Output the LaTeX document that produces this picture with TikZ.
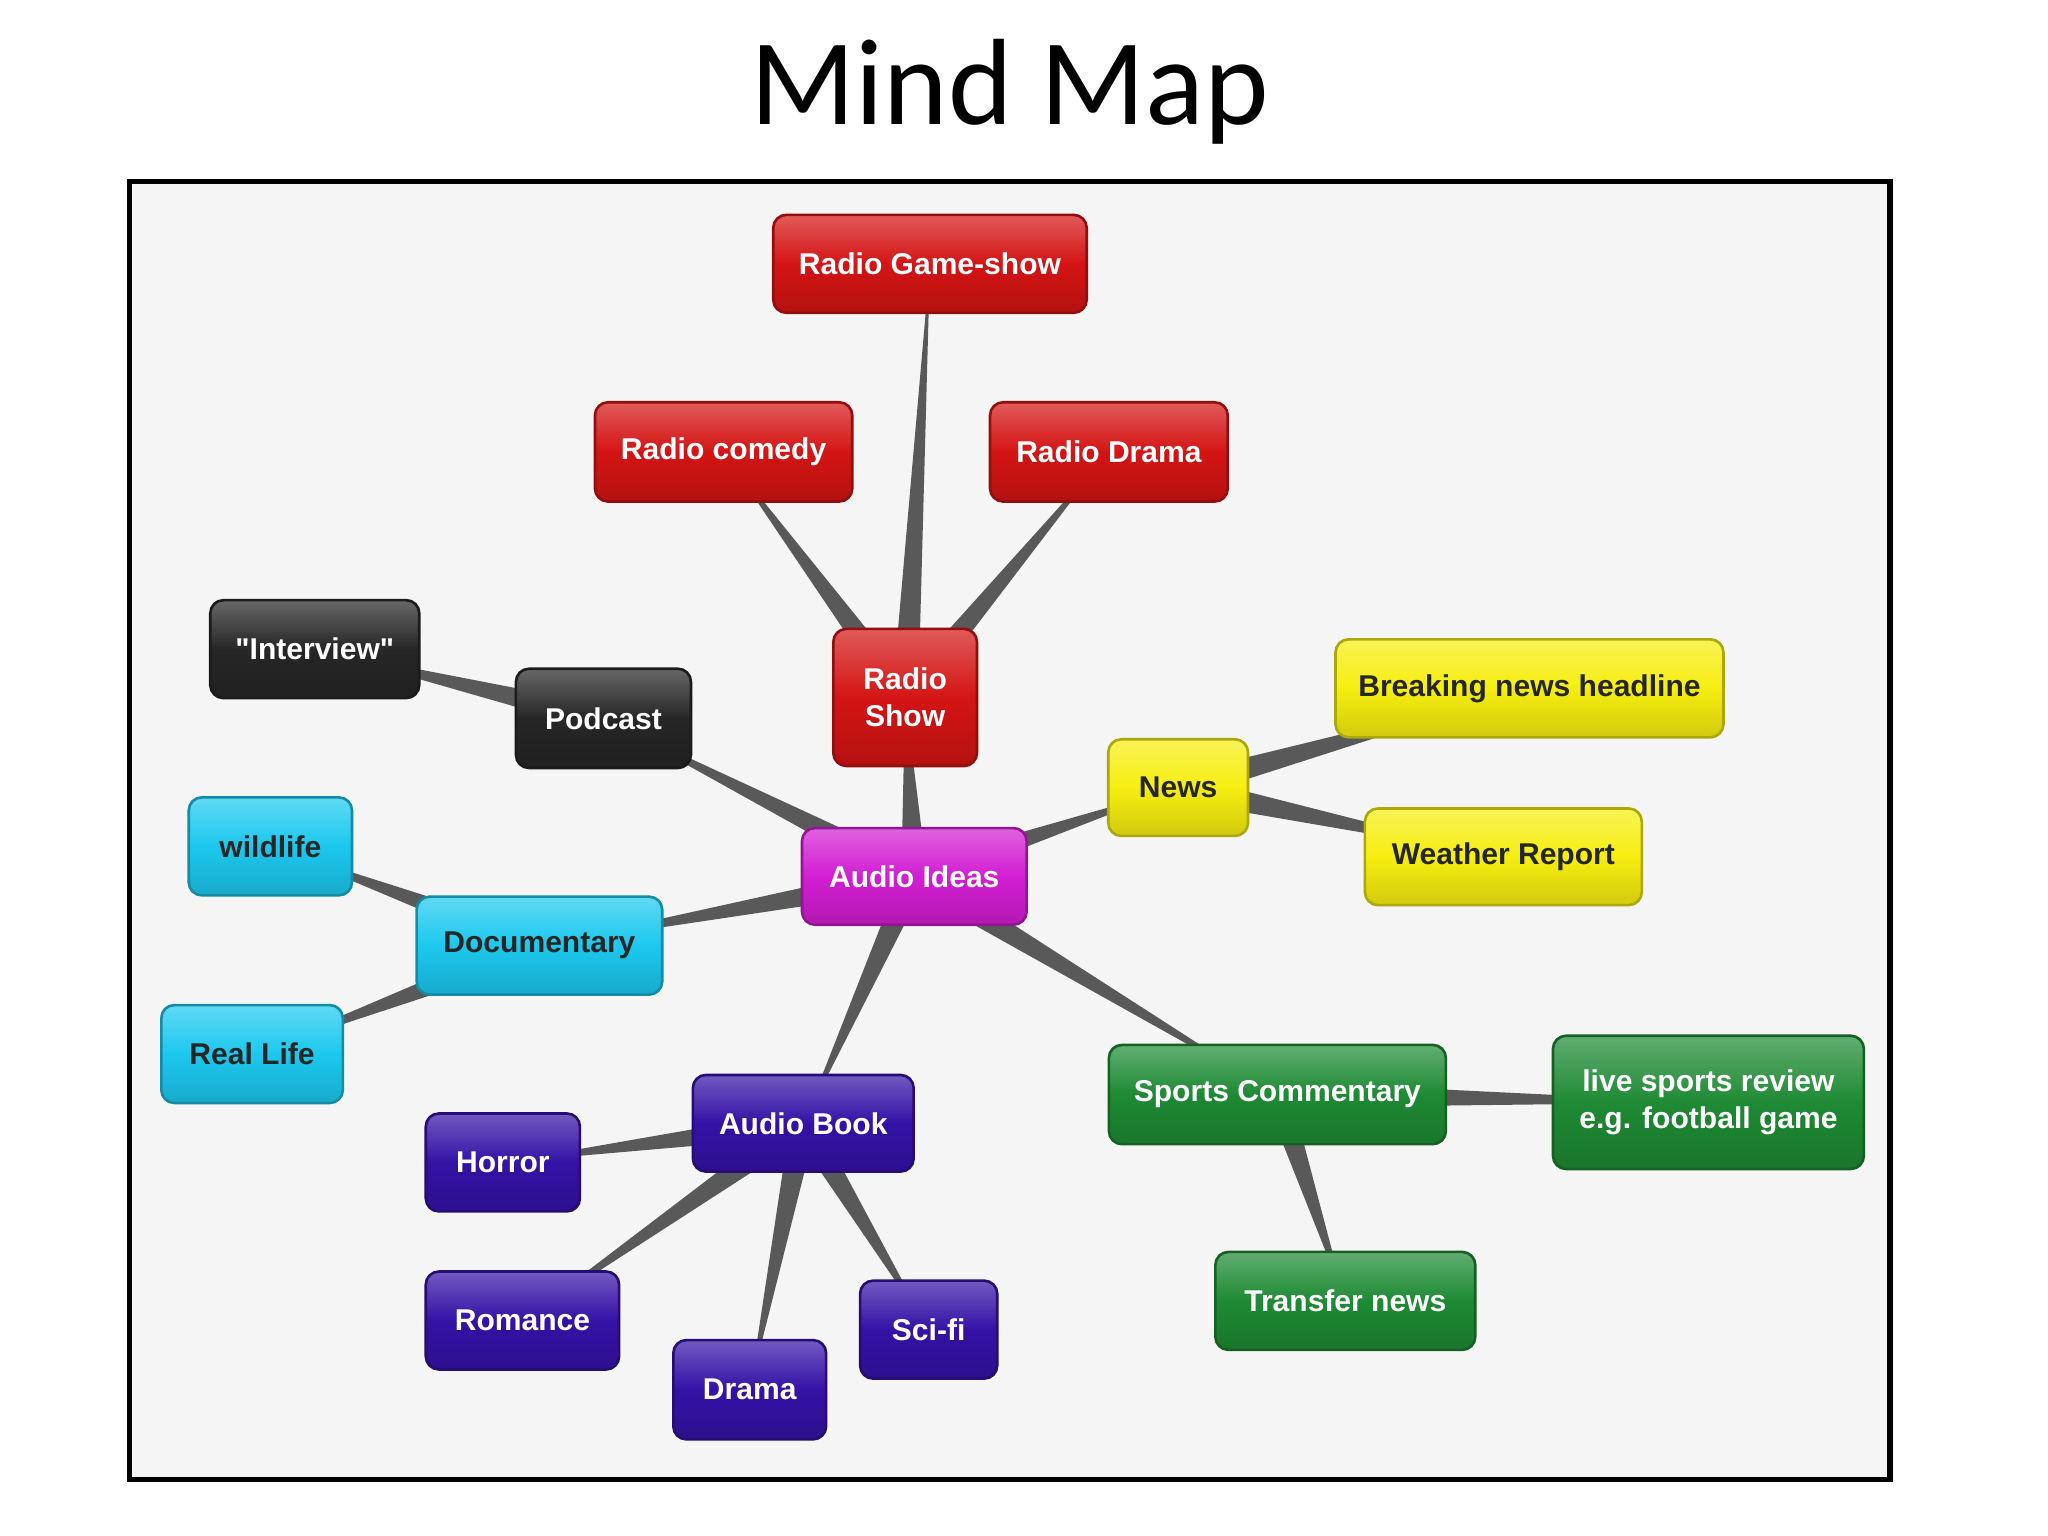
\documentclass[tikz,border=0pt]{standalone}
\usepackage{fontspec}
\setmainfont{Liberation Sans}
\newfontfamily\titlefont{Carlito}
\usetikzlibrary{calc,backgrounds}
\definecolor{cRed}{HTML}{D41414}
\definecolor{cBlk}{HTML}{262626}
\definecolor{cYel}{HTML}{F6EE10}
\definecolor{cCya}{HTML}{1CC8EE}
\definecolor{cMag}{HTML}{D21ED2}
\definecolor{cGrn}{HTML}{1E8A34}
\definecolor{cBlu}{HTML}{3412A6}
\begin{document}
\begin{tikzpicture}[x=0.5pt,y=-0.5pt,
 box/.style={rounded corners=5pt,draw=#1!70!black,line width=1pt,top color=#1!70!white,bottom color=#1!85!black,middle color=#1,font=\bfseries\fontsize{11.5}{14}\selectfont,align=center,inner sep=0pt},
 rd/.style={box=cRed,text=white},
 bk/.style={box=cBlk,text=white},
 yl/.style={box=cYel,text=black!85},
 cy/.style={box=cCya,text=black!85},
 mg/.style={box=cMag,text=white},
 gr/.style={box=cGrn,text=white},
 bl/.style={box=cBlu,text=white},
 sz/.style 2 args={minimum width=#1*0.5pt,minimum height=#2*0.5pt}]
\useasboundingbox (0,0) rectangle (1568,1176);
\node[font=\titlefont\fontsize{47}{50}\selectfont] (title) at (773,70) {Mind Map};
\node[draw,line width=2pt,minimum width=674pt,minimum height=497pt,inner sep=0pt] (frame) at (773,636) {};
\node[rd,sz={240}{75}] (gs) at (712,202) {Radio Game-show};
\node[rd,sz={197}{76}] (rc) at (554,346) {Radio comedy};
\node[rd,sz={182}{76}] (rdr) at (849,346) {Radio Drama};
\node[rd,sz={110}{105}] (rs) at (693,534) {Radio\\Show};
\node[bk,sz={160}{75}] (iv) at (241,497) {\textquotedbl Interview\textquotedbl};
\node[bk,sz={134}{76}] (pc) at (462,550) {Podcast};
\node[yl,sz={297}{75}] (bn) at (1171,527) {Breaking news headline};
\node[yl,sz={107}{74}] (nw) at (902,603) {News};
\node[yl,sz={212}{74}] (wr) at (1151,656) {Weather Report};
\node[mg,sz={172}{74}] (ai) at (700,671) {Audio Ideas};
\node[cy,sz={125}{75}] (wl) at (207,648) {wildlife};
\node[cy,sz={188}{75}] (dc) at (413,724) {Documentary};
\node[cy,sz={139}{75}] (rl) at (193,807) {Real Life};
\node[gr,sz={258}{76}] (sc) at (978,838) {Sports Commentary};
\node[gr,sz={238}{102}] (ls) at (1308,844) {live sports review\\e.g. football game};
\node[gr,sz={199}{75}] (tn) at (1030,996) {Transfer news};
\node[bl,sz={169}{74}] (ab) at (615,860) {Audio Book};
\node[bl,sz={118}{75}] (ho) at (385,890) {Horror};
\node[bl,sz={148}{75}] (ro) at (400,1011) {Romance};
\node[bl,sz={117}{76}] (dr) at (574,1064) {Drama};
\node[bl,sz={105}{75}] (sf) at (711,1018) {Sci-fi};
\newcommand{\taper}[2]{\fill[black!65] ($(#1.center)!5pt!90:(#2.center)$) -- ($(#1.center)!5pt!-90:(#2.center)$) -- (#2.center) -- cycle;}
\begin{scope}[on background layer]
\fill[black!4] (99,139) rectangle (1447,1133);
\taper{rs}{gs}\taper{rs}{rc}\taper{rs}{rdr}
\taper{ai}{rs}\taper{ai}{pc}\taper{pc}{iv}
\taper{ai}{nw}\taper{nw}{bn}\taper{nw}{wr}
\taper{ai}{dc}\taper{dc}{wl}\taper{dc}{rl}
\taper{ai}{sc}\taper{sc}{ls}\taper{sc}{tn}
\taper{ai}{ab}\taper{ab}{ho}\taper{ab}{ro}\taper{ab}{dr}\taper{ab}{sf}
\end{scope}
\end{tikzpicture}
\end{document}
